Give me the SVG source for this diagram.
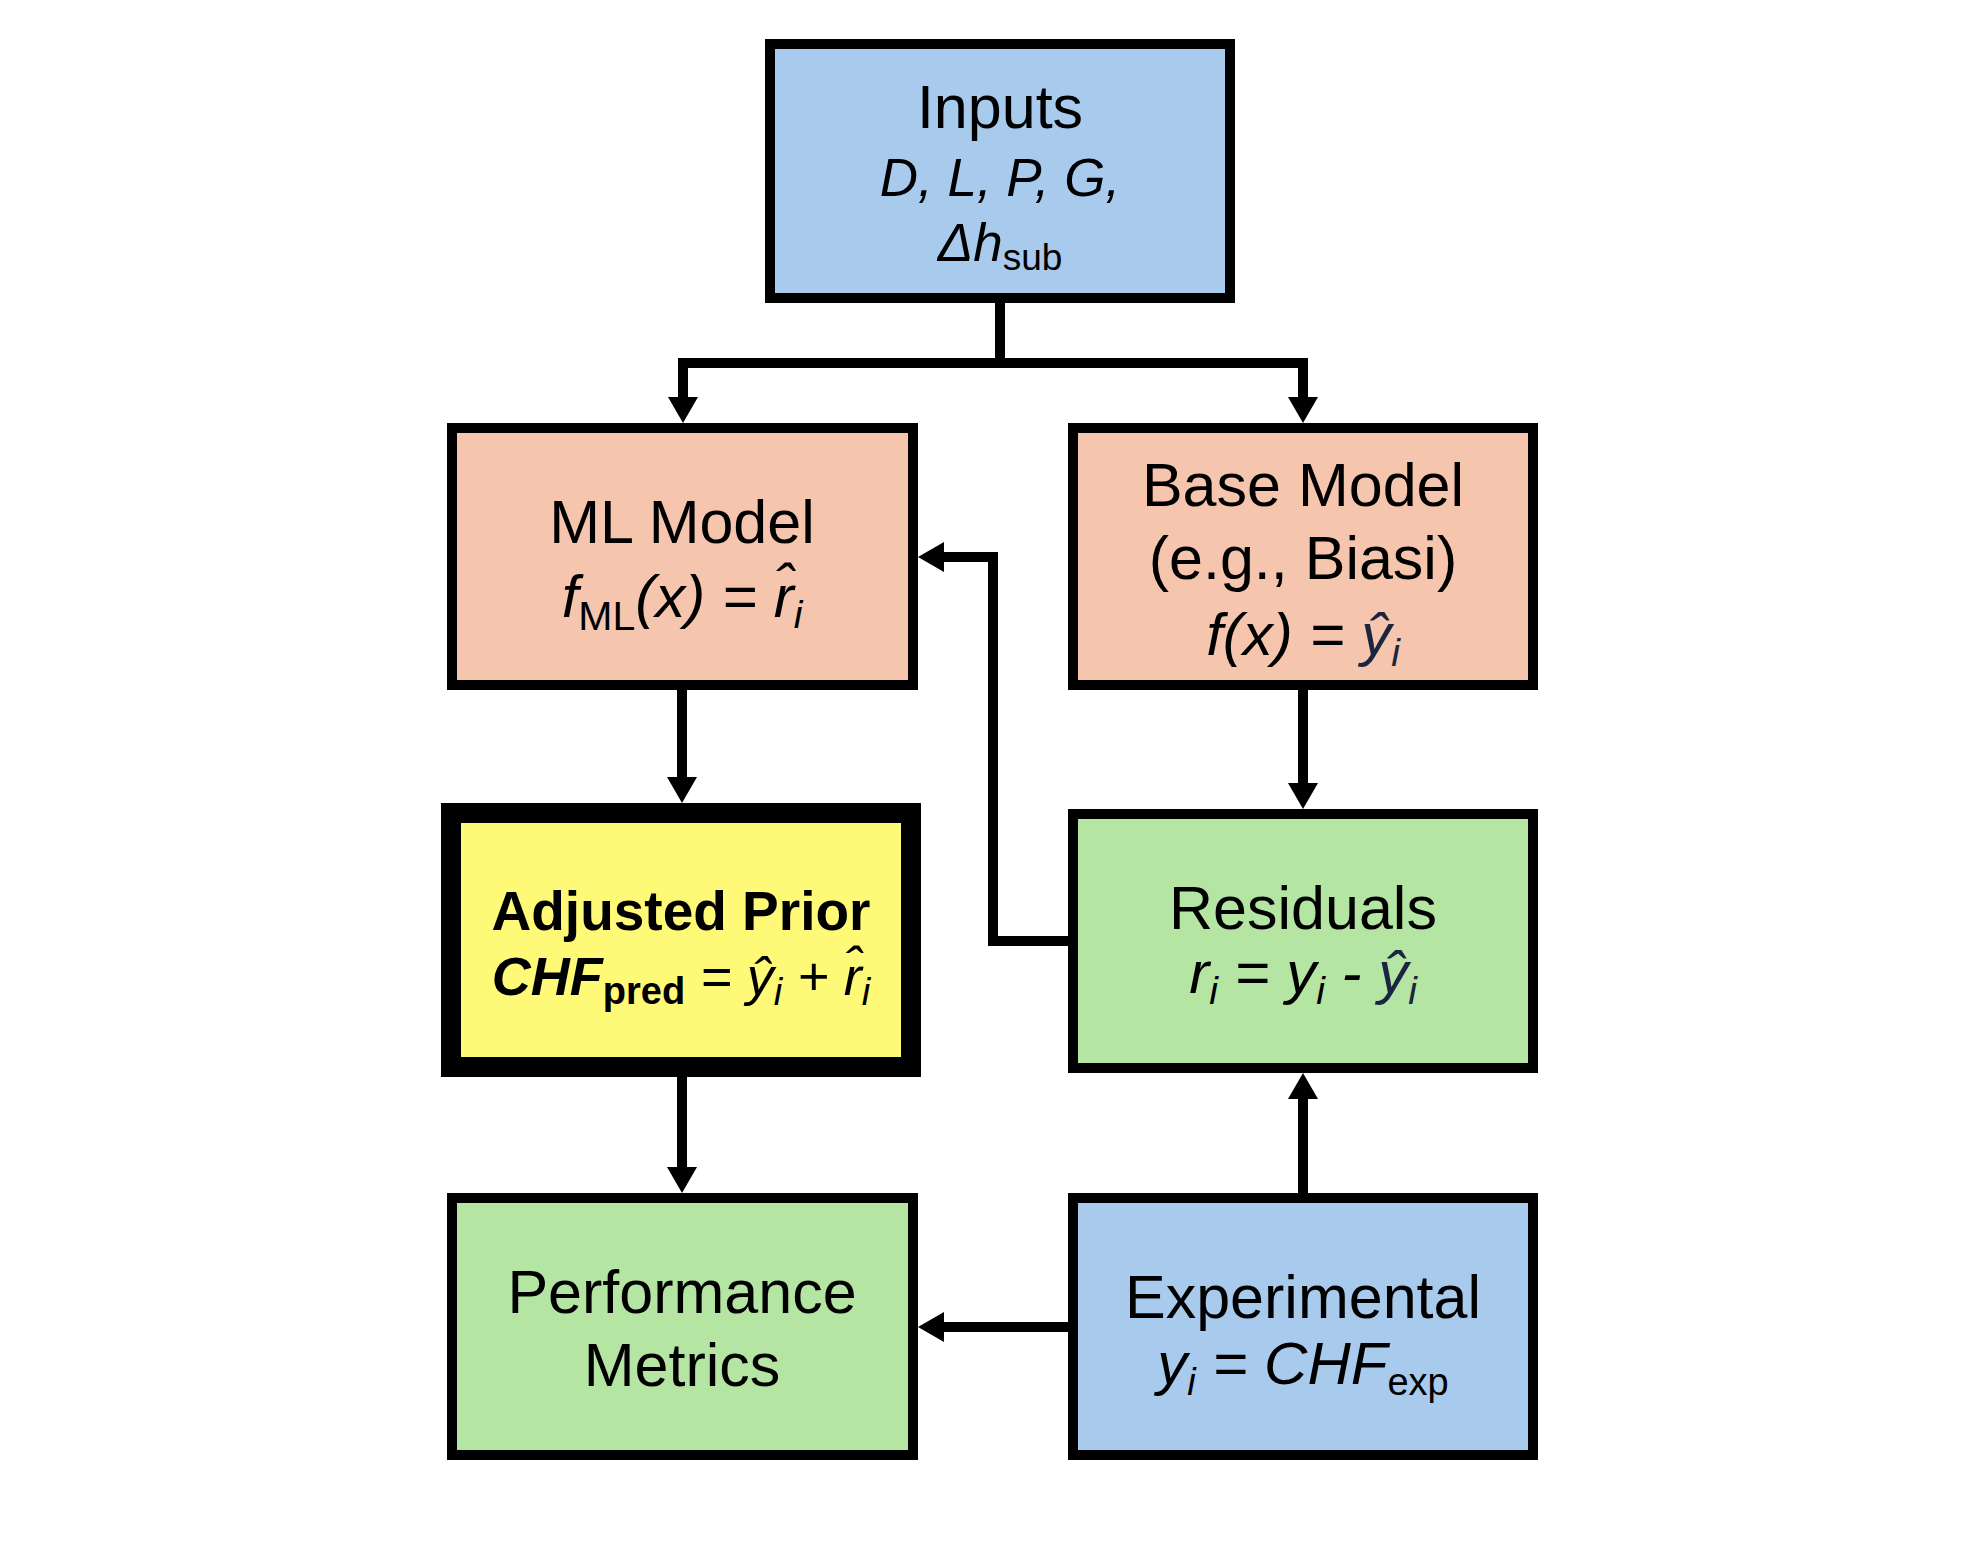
<svg xmlns="http://www.w3.org/2000/svg" width="1988" height="1560" viewBox="0 0 1988 1560">
<style>
.box{stroke:#000;stroke-width:10}
.thick{stroke-width:20}
.blue{fill:#A8CAEC}
.salmon{fill:#F5C6AD}
.green{fill:#B4E5A2}
.yellow{fill:#FFF978}
text{font-family:"Liberation Sans",Arial,Helvetica,sans-serif;text-anchor:middle;fill:#000}
.h{font-size:61px}
.m{font-size:60px}
.s{font-size:53px}
.it{font-style:italic}
.up{font-style:normal}
.nv{fill:#1B2440}
.conn{fill:none;stroke:#000;stroke-width:10;stroke-linejoin:miter;stroke-linecap:butt}
</style>
<defs>
<marker id="ah" markerUnits="userSpaceOnUse" markerWidth="26" markerHeight="30" refX="0" refY="15" orient="auto-start-reverse" viewBox="0 0 26 30">
<path d="M0,0 L26,15 L0,30 z" fill="#000"/>
</marker>
</defs>
<rect width="1988" height="1560" fill="#fff"/>
<g id="connectors">
<path class="conn" d="M1000 303 V363"/>
<path class="conn" d="M683 397 V363 H1303 V397" marker-start="url(#ah)" marker-end="url(#ah)"/>
<path class="conn" d="M682 690 V777" marker-end="url(#ah)"/>
<path class="conn" d="M1303 690 V783" marker-end="url(#ah)"/>
<path class="conn" d="M682 1077 V1167" marker-end="url(#ah)"/>
<path class="conn" d="M1303 1193 V1099" marker-end="url(#ah)"/>
<path class="conn" d="M1068 941 H993 V557 H944" marker-end="url(#ah)"/>
<path class="conn" d="M1068 1327 H944" marker-end="url(#ah)"/>
</g>
<g id="inputs">
<rect class="box blue" x="770" y="44" width="460" height="254"/>
<text class="h" x="1000" y="128">Inputs</text>
<text class="s it" x="1000" y="196">D, L, P, G,</text>
<text class="s" x="1000" y="261"><tspan class="it">Δh</tspan><tspan class="up" font-size="37" dy="9">sub</tspan></text>
</g>
<g id="ml-model">
<rect class="box salmon" x="452" y="428" width="461" height="257"/>
<text class="h" x="682" y="543">ML Model</text>
<text class="m" x="682" y="617"><tspan class="it">f</tspan><tspan class="up" font-size="41" dy="13">ML</tspan><tspan class="it" dy="-13">(x) = r̂</tspan><tspan class="it" font-size="39" dy="11">i</tspan></text>
</g>
<g id="base-model">
<rect class="box salmon" x="1073" y="428" width="460" height="257"/>
<text class="h" x="1303" y="506">Base Model</text>
<text class="h" x="1303" y="579">(e.g., Biasi)</text>
<text class="m" x="1303" y="655"><tspan class="it">f(x) = </tspan><tspan class="it nv">ŷ</tspan><tspan class="it nv" font-size="39" dy="11">i</tspan></text>
</g>
<g id="adjusted-prior">
<rect class="box thick yellow" x="451" y="813" width="460" height="254"/>
<text x="681" y="930" font-size="55" font-weight="bold">Adjusted Prior</text>
<text x="681" y="995" font-size="54"><tspan class="it" font-weight="bold">CHF</tspan><tspan font-weight="bold" font-size="38" dy="9">pred</tspan><tspan class="it" dy="-9"> = ŷ</tspan><tspan class="it" font-size="38" dy="10">i</tspan><tspan class="it" dy="-10"> + r̂</tspan><tspan class="it" font-size="38" dy="10">i</tspan></text>
</g>
<g id="residuals">
<rect class="box green" x="1073" y="814" width="460" height="254"/>
<text class="h" x="1303" y="929">Residuals</text>
<text class="m" x="1303" y="993"><tspan class="it">r</tspan><tspan class="it" font-size="39" dy="11">i</tspan><tspan class="it" dy="-11"> = y</tspan><tspan class="it" font-size="39" dy="11">i</tspan><tspan class="it" dy="-11"> - </tspan><tspan class="it nv">ŷ</tspan><tspan class="it nv" font-size="39" dy="11">i</tspan></text>
</g>
<g id="performance-metrics">
<rect class="box green" x="452" y="1198" width="461" height="257"/>
<text class="h" x="682" y="1313">Performance</text>
<text class="h" x="682" y="1386">Metrics</text>
</g>
<g id="experimental">
<rect class="box blue" x="1073" y="1198" width="460" height="257"/>
<text class="h" x="1303" y="1318">Experimental</text>
<text class="m" x="1303" y="1384"><tspan class="it">y</tspan><tspan class="it" font-size="38" dy="11">i</tspan><tspan class="it" dy="-11"> = CHF</tspan><tspan class="up" font-size="38" dy="11">exp</tspan></text>
</g>
</svg>
